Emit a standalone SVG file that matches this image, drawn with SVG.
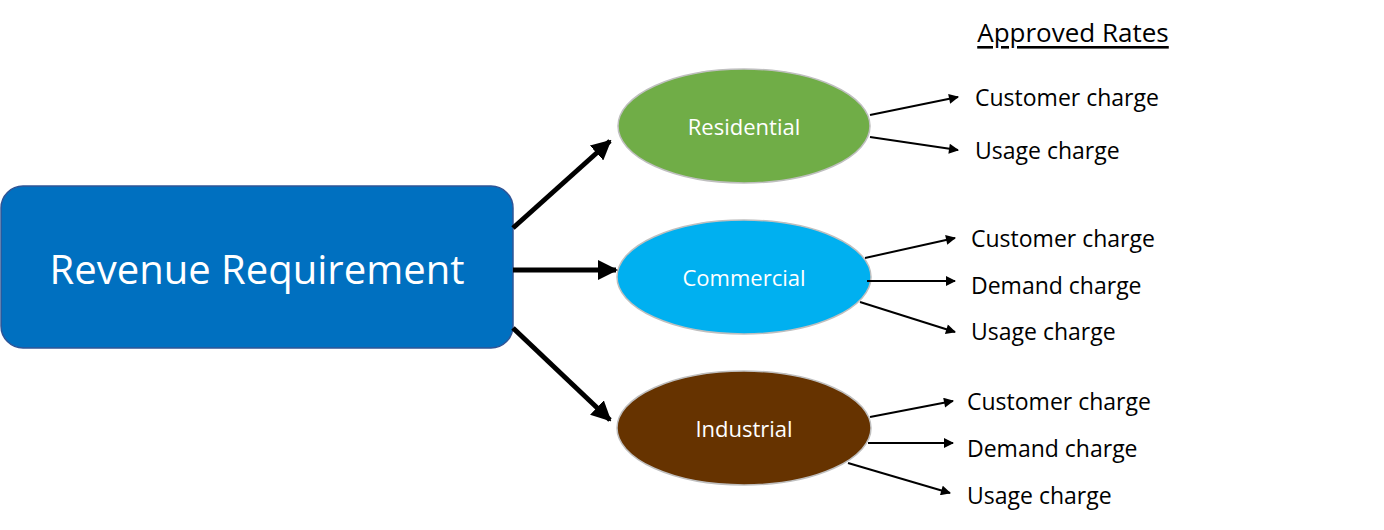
<svg xmlns="http://www.w3.org/2000/svg" width="1384" height="530" viewBox="0 0 1384 530">
<style>
text{font-family:"Open Sans","Liberation Sans",sans-serif}
.lbl{font-size:23px;fill:#000;dominant-baseline:central}
.nt{font-size:22px;fill:#fff;text-anchor:middle;dominant-baseline:central}
.thick{stroke:#000;stroke-width:5;fill:none}
.thin{stroke:#000;stroke-width:2;fill:none}
.ell{stroke:#BFBFBF;stroke-width:1.5}
</style>
<defs>
<marker id="ab" viewBox="0 0 10 10" refX="9" refY="5" markerWidth="4" markerHeight="4" orient="auto" markerUnits="strokeWidth"><path d="M0,0L10,5L0,10z" fill="#000"/></marker>
<marker id="as" viewBox="0 0 10 10" refX="9" refY="5" markerWidth="6" markerHeight="5" orient="auto" markerUnits="strokeWidth"><path d="M0,0L10,5L0,10z" fill="#000"/></marker>
</defs>
<rect width="1384" height="530" fill="#fff"/>
<g id="title"><text x="1073" y="32" style="font-size:26px;text-anchor:middle;dominant-baseline:central" text-decoration="underline">Approved Rates</text></g>
<g id="revenue"><rect x="1" y="186" width="512" height="162" rx="22" fill="#0070C0" stroke="#2F5597" stroke-width="1.5"/><text x="257" y="268" class="nt" style="font-size:40px">Revenue Requirement</text></g>
<g id="residential"><ellipse cx="744" cy="126" rx="126" ry="57" fill="#70AD47" class="ell"/><text x="744" y="126" class="nt">Residential</text></g>
<g id="commercial"><ellipse cx="744" cy="277" rx="127" ry="57" fill="#00B0F0" class="ell"/><text x="744" y="277" class="nt">Commercial</text></g>
<g id="industrial"><ellipse cx="744" cy="428" rx="127" ry="57" fill="#663300" class="ell"/><text x="744" y="428" class="nt">Industrial</text></g>
<g id="labels">
<text x="975" y="97" class="lbl">Customer charge</text>
<text x="975" y="150" class="lbl">Usage charge</text>
<text x="971" y="238" class="lbl">Customer charge</text>
<text x="971" y="285" class="lbl">Demand charge</text>
<text x="971" y="331" class="lbl">Usage charge</text>
<text x="967" y="401" class="lbl">Customer charge</text>
<text x="967" y="448" class="lbl">Demand charge</text>
<text x="967" y="495" class="lbl">Usage charge</text>
</g>
<g id="connectors">
<line x1="513" y1="228" x2="610" y2="141" class="thick" marker-end="url(#ab)"/>
<line x1="513" y1="270" x2="616" y2="270" class="thick" marker-end="url(#ab)"/>
<line x1="513" y1="328" x2="610" y2="420" class="thick" marker-end="url(#ab)"/>
<line x1="870" y1="115" x2="958" y2="97" class="thin" marker-end="url(#as)"/>
<line x1="870" y1="137" x2="958" y2="150" class="thin" marker-end="url(#as)"/>
<line x1="865" y1="258" x2="955" y2="238" class="thin" marker-end="url(#as)"/>
<line x1="867" y1="281" x2="955" y2="281" class="thin" marker-end="url(#as)"/>
<line x1="860" y1="302" x2="955" y2="332" class="thin" marker-end="url(#as)"/>
<line x1="870" y1="417" x2="953" y2="401" class="thin" marker-end="url(#as)"/>
<line x1="868" y1="443" x2="953" y2="443" class="thin" marker-end="url(#as)"/>
<line x1="848" y1="463" x2="950" y2="493" class="thin" marker-end="url(#as)"/>
</g>
</svg>
